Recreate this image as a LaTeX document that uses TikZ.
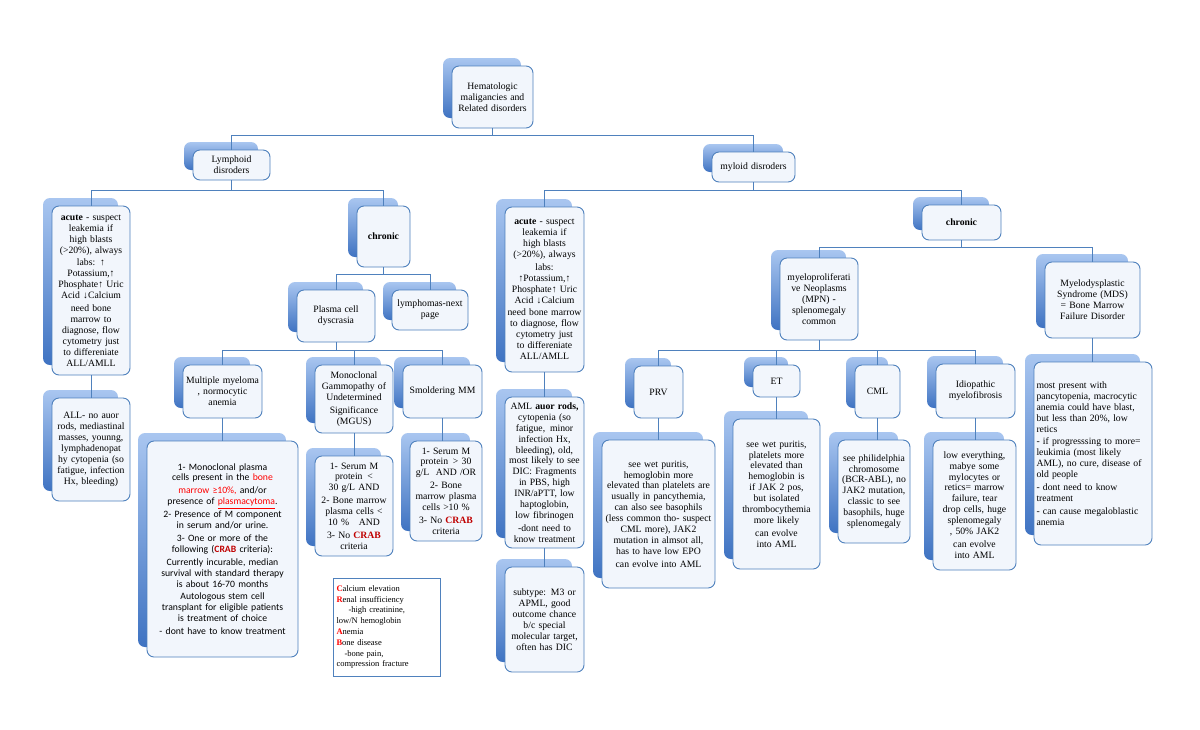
\documentclass[tikz,border=0pt]{standalone}
\usepackage{fontspec}
\setmainfont{Liberation Serif}
\newfontfamily\calfont{Carlito}
\usetikzlibrary{calc}
\hyphenpenalty=10000\relax
\exhyphenpenalty=10000\relax
\definecolor{bl1}{HTML}{A9C6F0}
\definecolor{bl2}{HTML}{3F73C2}
\definecolor{edge}{HTML}{4F81BD}
\definecolor{frontc}{HTML}{F2F6FC}
\definecolor{dred}{HTML}{C00000}
\tikzset{front/.style={draw=edge,line width=0.9pt,fill=frontc,rounded corners=7pt,align=center,inner sep=2pt,font=\fontsize{9.7}{10.9}\selectfont},
 conn/.style={draw=edge,line width=0.9pt}}
\newcommand\bx[7][center]{%
 \pgfmathsetmacro\bw{#5-#3}\pgfmathsetmacro\bh{#6-#4}\pgfmathsetmacro\tw{#5-#3-5}%
 \shade[rounded corners=7pt,top color=bl1,bottom color=bl2] (#3-9,#4-8) rectangle (#5-12,#6-10);
 \node[front,align=#1,minimum width=\bw pt,minimum height=\bh pt,text width=\tw pt] (#2) at ({(#3+#5)/2},{(#4+#6)/2}) {#7};}
\newcommand\gp{\\[2pt]}
\newcommand\tree[3]{\draw[conn] (#1.south) -- (#1.south |- 0,#2) -| (#3.north);}
\begin{document}
\begin{tikzpicture}[x=1pt,y=-1pt]
\useasboundingbox[fill=white] (0,0) rectangle (1200,729);
\bx{root}{452}{66}{533}{128}{Hematologic maligancies and Related disorders}
\bx{lym}{193}{150}{270}{180}{Lymphoid disroders}
\bx{mye}{712}{152}{795}{182}{myloid disroders}
\bx{acL}{52}{206}{130}{375}{\textbf{acute} - suspect leakemia if high blasts (>20\%), always\gp labs: ↑ Potassium,↑ Phosphate↑ Uric Acid ↓Calcium\gp need bone marrow to diagnose, flow cytometry just to differeniate ALL/AMLL}
\bx{all}{52}{398}{130}{501}{ALL- no auor rods, mediastinal masses, younng, lymphadenopat hy cytopenia (so fatigue, infection Hx, bleeding)}
\bx{chL}{357}{206}{410}{267}{\textbf{chronic}}
\bx{pla}{297}{290}{375}{342}{Plasma cell dyscrasia}
\bx{lyo}{392}{290}{468}{330}{lymphomas-next page}
\bx{mm}{183}{365}{262}{418}{Multiple myeloma , normocytic anemia}
\bx{mgus}{315}{365}{393}{433}{Monoclonal Gammopathy of Undetermined\gp Significance (MGUS)}
\bx{smo}{403}{365}{482}{418}{Smoldering MM}
\bx{mmd}{147}{441}{298}{657}{\calfont 1- Monoclonal plasma cells present in the \textcolor{red}{bone}\gp \textcolor{red}{marrow ≥10\%,} and/or presence of \textcolor{red}{\underline{plasmacytoma}}.\gp 2- Presence of M component in serum and/or urine.\gp 3- One or more of the following (\textcolor{dred}{\textbf{CRAB}} criteria):\gp Currently incurable, median survival with standard therapy is about 16-70 months\gp Autologous stem cell transplant for eligible patients is treatment of choice\gp - dont have to know treatment}
\bx{mgd}{315}{456}{393}{556}{1- Serum M protein \,< 30 g/L AND\gp 2- Bone marrow plasma cells < 10 \% \ \ AND\gp 3- No \textcolor{dred}{\textbf{CRAB}} criteria}
\bx{smd}{410}{441}{482}{541}{1- Serum M protein \,> 30 g/L \ AND /OR\gp 2- Bone marrow plasma cells >10 \%\gp 3- No \textcolor{dred}{\textbf{CRAB}} criteria}
\node[draw=edge,line width=0.8pt,align=left,minimum width=107pt,minimum height=98pt,text width=100pt,inner sep=3pt,font=\fontsize{8.5}{10.8}\selectfont] (crab) at (386.5,627) {\textcolor{red}{\textbf{C}}alcium elevation\\ \textcolor{red}{\textbf{R}}enal insufficiency\\ \hspace*{12pt}-high creatinine,\\ low/N hemoglobin\\ \textcolor{red}{\textbf{A}}nemia\\ \textcolor{red}{\textbf{B}}one disease\\ \hspace*{8pt}-bone pain,\\ compression fracture};
\bx{acM}{505}{207}{584}{372}{\textbf{acute} - suspect leakemia if high blasts (>20\%), always\gp labs: ↑Potassium,↑ Phosphate↑ Uric Acid ↓Calcium\gp need bone marrow to diagnose, flow cytometry just to differeniate ALL/AMLL}
\bx{aml}{505}{397}{584}{548}{AML \textbf{auor rods,} cytopenia (so fatigue, \,minor infection Hx, bleeding), old, most likely to see DIC: Fragments in PBS, high INR/aPTT, low haptoglobin, low fibrinogen\gp -dont need to know treatment}
\bx{sub}{505}{567}{584}{672}{subtype: M3 or APML, good outcome chance b/c special molecular target, often has DIC}
\bx{chM}{922}{205}{1001}{240}{\textbf{chronic}}
\bx{mpn}{780}{258}{858}{340}{myeloproliferati ve Neoplasms (MPN) - splenomegaly common}
\bx{mds}{1045}{262}{1140}{338}{Myelodysplastic Syndrome (MDS) = Bone Marrow Failure Disorder}
\bx{prv}{634}{366}{683}{418}{PRV}
\bx{et}{753}{365}{800}{397}{ET}
\bx{cml}{855}{365}{900}{418}{CML}
\bx{idi}{936}{364}{1015}{418}{Idiopathic myelofibrosis}
\bx{prd}{602}{440}{715}{588}{see wet puritis, hemoglobin more elevated than platelets are usually in pancythemia, can also see basophils (less common tho- suspect CML more), JAK2 mutation in almsot all, has to have low EPO\gp can evolve into AML}
\bx{etd}{733}{419}{820}{569}{see wet puritis, platelets more elevated than hemoglobin is if JAK 2 pos, but isolated thrombocythemia more likely\gp can evolve into AML}
\bx{cmd}{838}{440}{910}{543}{see philidelphia chromosome (BCR-ABL), no JAK2 mutation, classic to see basophils, huge splenomegaly}
\bx{idd}{933}{440}{1016}{570}{low everything, mabye some mylocytes or retics= marrow failure, tear drop cells, huge splenomegaly , 50\% JAK2\gp can evolve into AML}
\bx[left]{mdd}{1034}{362}{1152}{545}{most present with pancytopenia, macrocytic anemia could have blast, but less than 20\%, low retics\gp - if progresssing to more= leukimia (most likely AML), no cure, disease of old people\gp - dont need to know treatment\gp - can cause megaloblastic anemia}
% connectors
\tree{root}{135}{lym}\tree{root}{135}{mye}
\tree{lym}{190}{acL}\tree{lym}{190}{chL}
\draw[conn] (acL.south) -- (all.north);
\tree{chL}{274}{pla}\tree{chL}{274}{lyo}
\tree{pla}{350}{mm}\tree{pla}{350}{mgus}\tree{pla}{350}{smo}
\draw[conn] (mm.south) -- (mm.south |- mmd.north);
\draw[conn] (mgus.south) -- (mgd.north);
\draw[conn] (smo.south) -- (smo.south |- smd.north);
\tree{mye}{190}{acM}\tree{mye}{190}{chM}
\draw[conn] (acM.south) -- (aml.north);
\draw[conn] (aml.south) -- (sub.north);
\tree{chM}{247}{mpn}\tree{chM}{247}{mds}
\tree{mpn}{350}{prv}\tree{mpn}{350}{et}\tree{mpn}{350}{cml}\tree{mpn}{350}{idi}
\draw[conn] (prv.south) -- (prv.south |- prd.north);
\draw[conn] (et.south) -- (et.south |- etd.north);
\draw[conn] (cml.south) -- (cml.south |- cmd.north);
\draw[conn] (idi.south) -- (idi.south |- idd.north);
\draw[conn] (mds.south) -- (mds.south |- mdd.north);
\end{tikzpicture}
\end{document}
